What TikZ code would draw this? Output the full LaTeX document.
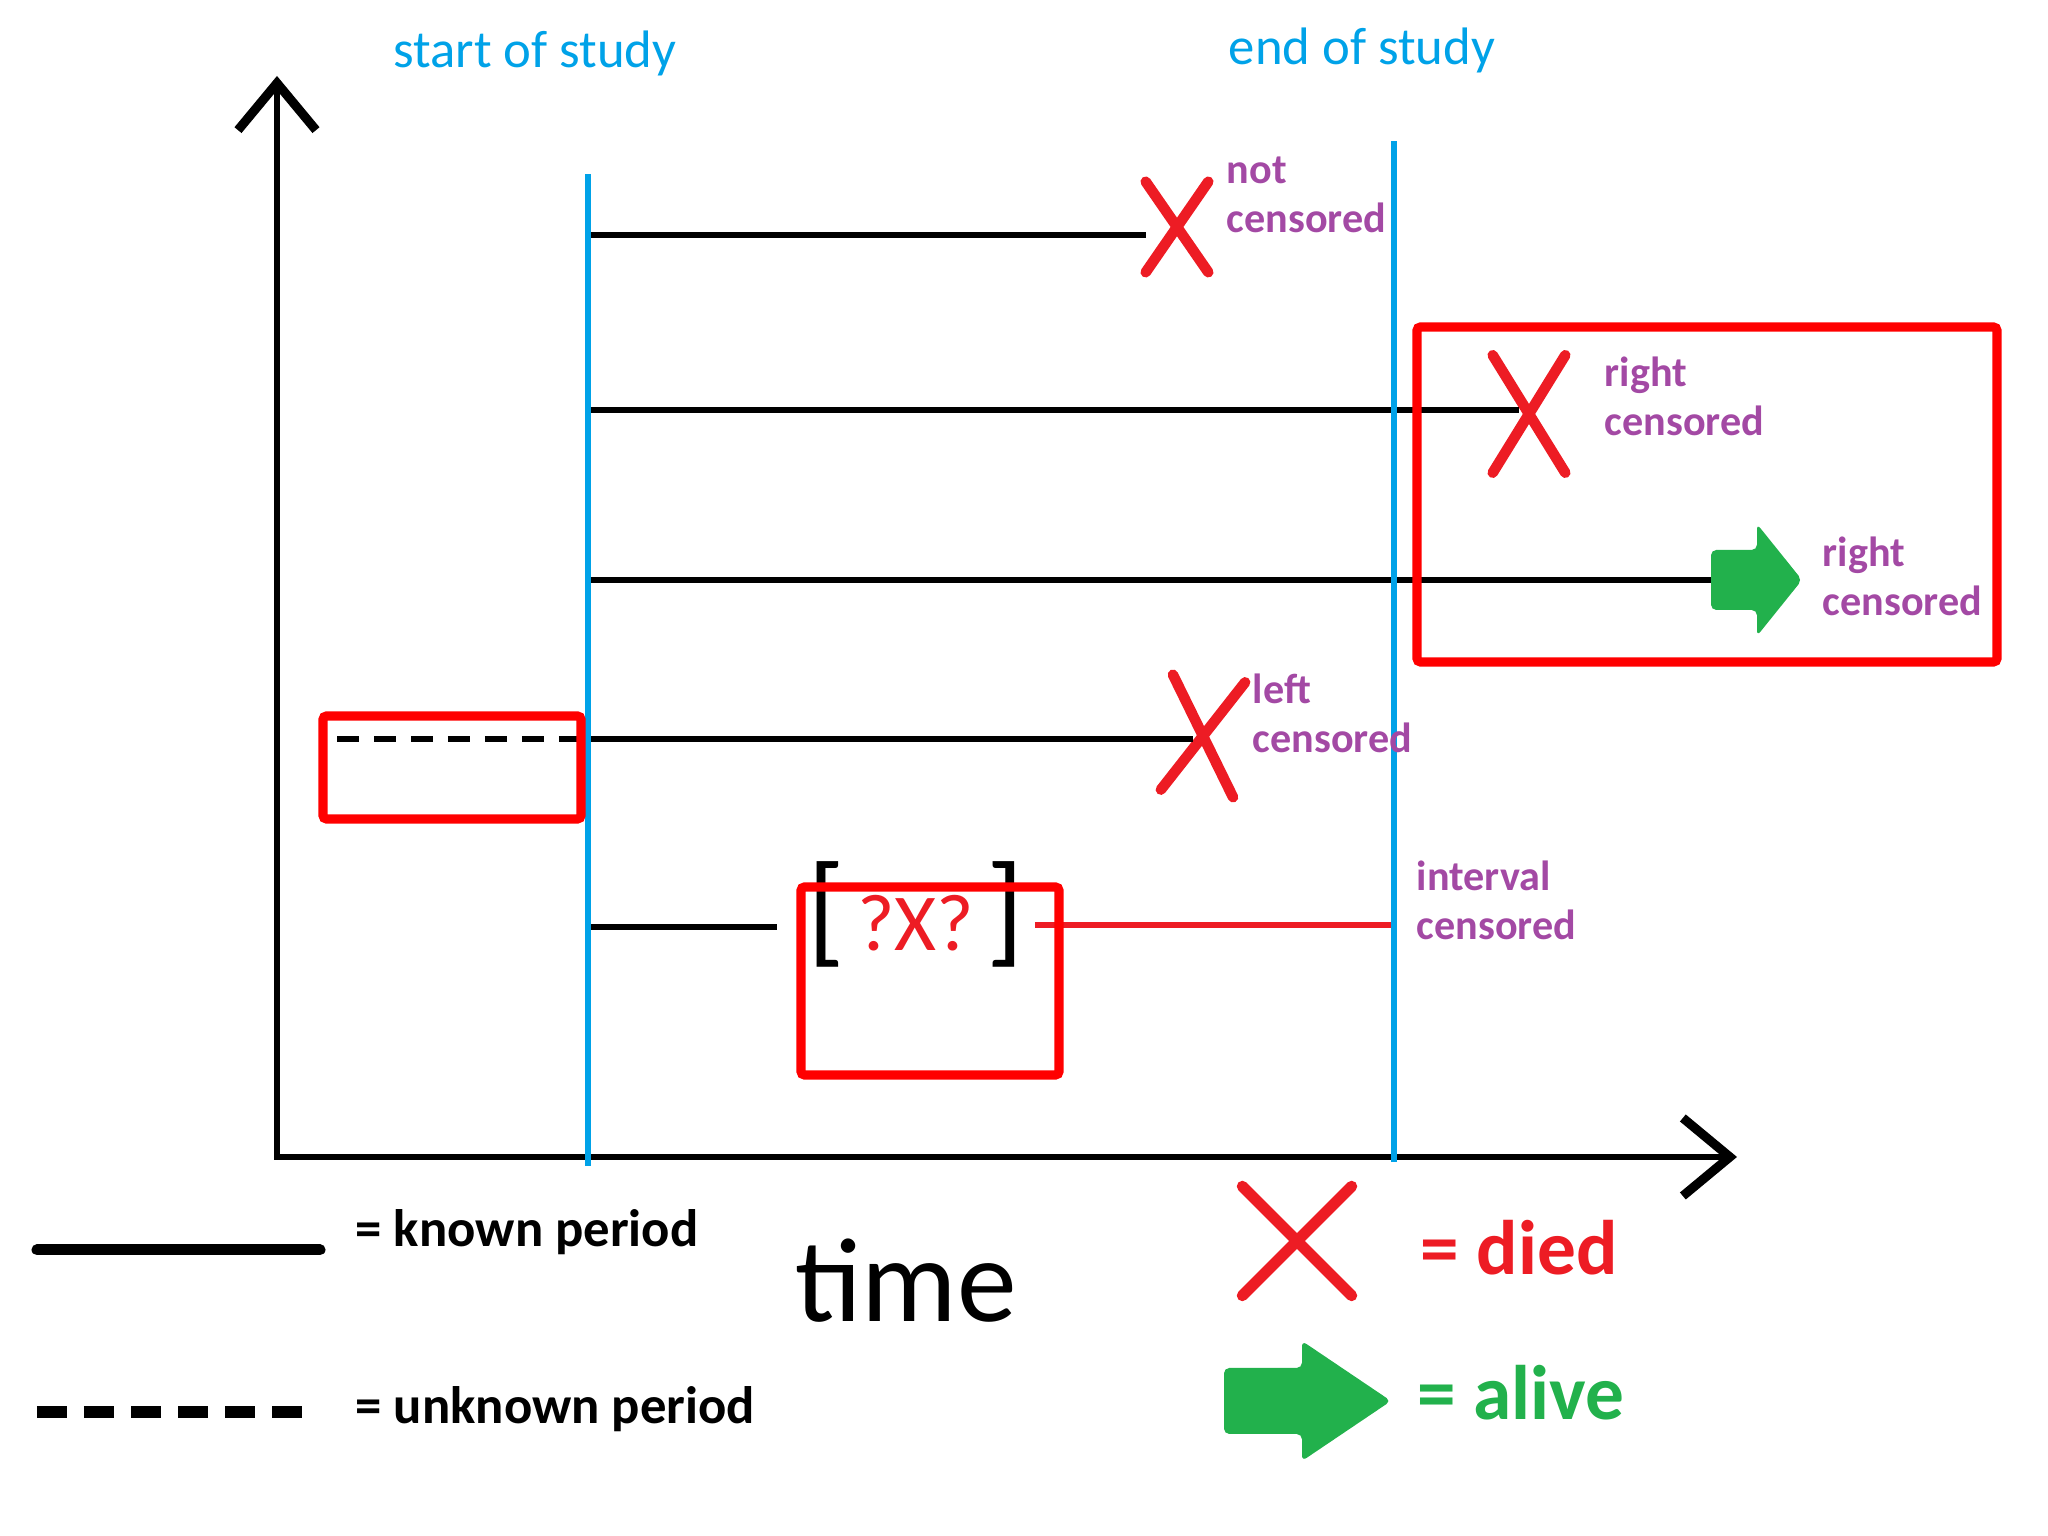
\documentclass[tikz,border=0pt]{standalone}
\usepackage{fontspec}
\setmainfont{Carlito}
\usepackage{tikz}
\usetikzlibrary{arrows.meta}
\usetikzlibrary{shapes.misc}
\definecolor{paintred}{RGB}{237,28,36}
\definecolor{boxred}{RGB}{255,0,0}
\definecolor{paintgreen}{RGB}{34,177,76}
\definecolor{paintblue}{RGB}{0,162,232}
\definecolor{paintpurple}{RGB}{163,73,164}
\tikzset{
  axis/.style={line width=1.6pt,-{Straight Barb[length=4.7mm,width=7.8mm,line width=2.6pt]}},
  study/.style={draw=paintblue,line width=1.5pt},
  known/.style={line width=1.9pt},
  died/.style={cross out,draw=paintred,line width=3pt,line cap=round,inner sep=0pt},
  alive/.style={fill=paintgreen,rounded corners=1.5pt},
  focus/.style={draw=boxred,line width=2.6pt,rounded corners=1pt},
  censor/.style={text=paintpurple,font=\bfseries\fontsize{12}{14}\selectfont,align=left,anchor=base west,inner sep=0pt},
  studylbl/.style={text=paintblue,font=\fontsize{15}{18}\selectfont,anchor=base,inner sep=0pt},
  legend/.style={font=\bfseries\fontsize{15}{18}\selectfont,anchor=base west,inner sep=0pt}
}

\begin{document}
\begin{tikzpicture}
  \useasboundingbox (0,0) rectangle (20.48,15.36);

  % axes
  \coordinate (o) at (2.77,3.79);
  \coordinate (ytip) at (2.77,14.60);
  \coordinate (xtip) at (17.37,3.79);
  \draw[axis] (o) -- (ytip);
  \draw[axis] ([xshift=-0.8pt]o) -- (xtip);

  % study period
  \coordinate (s0) at (5.88,3.70);
  \coordinate (s1) at (5.88,13.62);
  \coordinate (e0) at (13.94,3.74);
  \coordinate (e1) at (13.94,13.95);
  \node[studylbl] (startlbl) at (5.35,14.68) {start of study};
  \node[studylbl] (endlbl) at (13.62,14.71) {end of study};

  % subjects
  \coordinate (r1) at (5.88,13.01);
  \coordinate (r2) at (5.88,11.26);
  \coordinate (r3) at (5.88,9.56);
  \coordinate (r4) at (5.88,7.97);
  \coordinate (r5) at (5.88,6.09);
  \coordinate (u4) at (3.37,7.97);
  \coordinate (a3) at (17.11,9.56);
  \coordinate (e5) at (13.92,6.11);

  \node[died,minimum width=0.52cm,minimum height=0.80cm] (d1) at (11.77,13.09) {};
  \node[died,minimum width=0.62cm,minimum height=1.07cm] (d2) at (15.29,11.22) {};
  \node[died,minimum width=0.62cm,minimum height=1.05cm,rotate=-6] (d4) at (12.03,8.00) {};
  \node[anchor=base,inner sep=0pt,font=\fontsize{35}{35}\selectfont] (q) at (9.16,5.85)
    {[\hspace{0.12cm}\textcolor{paintred}{\fontsize{23}{23}\selectfont ?X?}\hspace{0.12cm}]};

  \draw[known] (r1) -- (r1 -| d1.west);
  \draw[known] (r2) -- ([xshift=-1mm]r2 -| d2.center);
  \draw[known] (r3) -- (a3);
  \draw[known] (r4) -- ([xshift=-1mm]r4 -| d4.center);
  \draw[line width=1.7pt,dash pattern=on 0.22cm off 0.15cm] (u4) -- (r4);
  \draw[known,shorten >=3mm] (r5) -- (r5 -| q.west);
  \draw[paintred,line width=1.5pt] ([xshift=1mm]q.east |- e5) -- (e5);

  \fill[alive] (a3) ++(0,0.30) -- ++(0.46,0) -- ++(0,0.26) -- ++(0.45,-0.56)
    -- ++(-0.45,-0.56) -- ++(0,0.26) -- ++(-0.46,0) -- cycle;

  \draw[study] (s0) -- (s1);
  \draw[study] (e0) -- (e1);

  \node[censor] (notcens) at (12.26,13.03) {not\\censored};
  \node[censor] (rightcens) at (16.04,11.00) {right\\censored};
  \node[censor] (rightcens2) at (18.22,9.20) {right\\censored};
  \node[censor] (leftcens) at (12.52,7.83) {left\\censored};
  \node[censor] (intcens) at (14.16,5.96) {interval\\censored};

  % highlighted cases
  \draw[focus] (14.17,12.09) rectangle (19.97,8.74);
  \draw[focus] (3.23,8.20) rectangle (5.81,7.17);
  \draw[focus] (8.01,6.49) rectangle (10.59,4.61);

  % legend
  \coordinate (k0) at (0.37,2.86);
  \coordinate (k1) at (3.20,2.86);
  \coordinate (n0) at (0.37,1.24);
  \coordinate (n1) at (3.07,1.24);
  \coordinate (al) at (12.24,1.35);
  \draw[line width=0.11cm,line cap=round] (k0) -- (k1);
  \draw[line width=0.12cm,dash pattern=on 0.30cm off 0.17cm] (n0) -- (n1);
  \node[legend] (knownlbl) at (3.55,2.89) {= known period};
  \node[legend] (unknownlbl) at (3.55,1.12) {= unknown period};
  \node[anchor=base,font=\fontsize{34}{40}\selectfont] (timelbl) at (9.06,2.14) {time};
  \node[died,minimum width=0.98cm,minimum height=0.98cm,line width=3.2pt] (diedmark) at (12.97,2.95) {};
  \fill[alive] (al) ++(0,0.33) -- ++(0.78,0) -- ++(0,0.27) -- ++(0.89,-0.60)
    -- ++(-0.89,-0.60) -- ++(0,0.27) -- ++(-0.78,0) -- cycle;
  \node[legend,text=paintred,font=\bfseries\fontsize{22}{26}\selectfont] (diedlbl) at (14.20,2.61) {= died};
  \node[legend,text=paintgreen,font=\bfseries\fontsize{22}{26}\selectfont] (alivelbl) at (14.17,1.16) {= alive};
\end{tikzpicture}
\end{document}
